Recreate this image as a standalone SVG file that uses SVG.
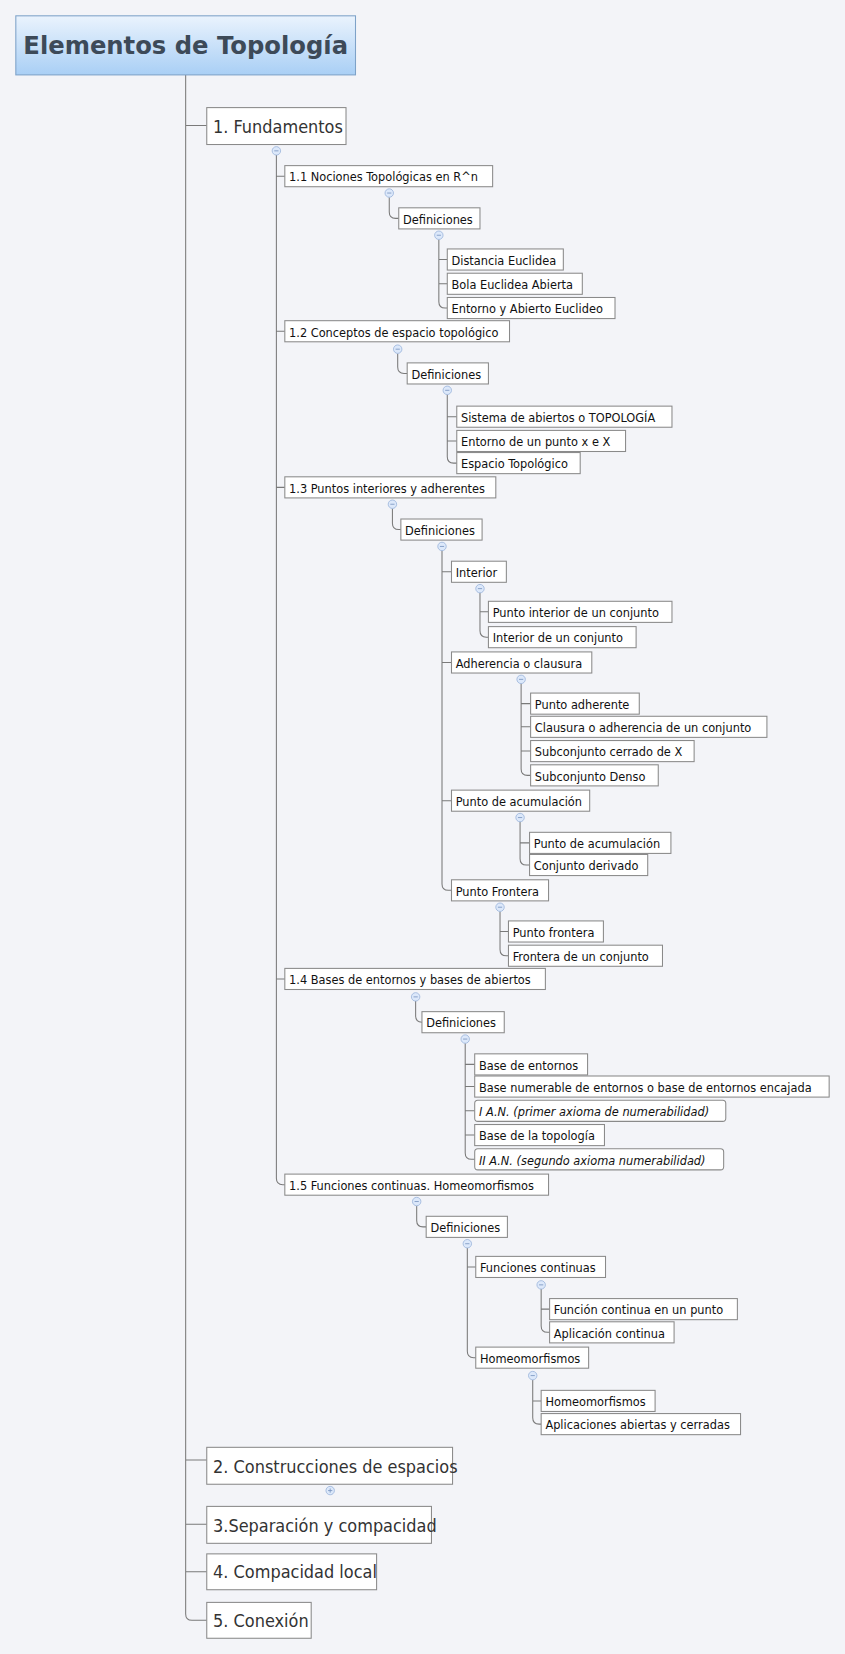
<svg xmlns="http://www.w3.org/2000/svg" width="845" height="1654" viewBox="0 0 845 1654">
<style>
.n rect{fill:#fff;stroke:#8a8a8a;stroke-width:1}
.n text{font-family:"DejaVu Sans Condensed","DejaVu Sans",sans-serif;font-size:12px;fill:#111}
.b text{font-size:17px;fill:#333}
.i text{font-style:italic}
#conn path{fill:none;stroke:#7a7a7a;stroke-width:1}
.c circle{fill:#dce8fa;stroke:#9db6dc;stroke-width:0.8}
.c path{stroke:#7a95c0;stroke-width:0.8}
</style>
<defs>
<linearGradient id="tg" x1="0" y1="0" x2="0" y2="1"><stop offset="0" stop-color="#eaf3fd"/><stop offset="1" stop-color="#a9cff5"/></linearGradient>
</defs>
<rect width="845" height="1654" fill="#f3f4f8"/>
<g transform="scale(1.0549)">
<g id="conn">
<path d="M176 71V1530Q176 1536 182 1536H196M176 1384H196M176 1445H196M176 1490H196M176 119H196"/>
<path d="M262 147V1117Q262 1123 268 1123H270M262 167H270M262 314H270M262 462H270M262 928H270"/>
<path d="M369 187V201Q369 207 375 207H378"/>
<path d="M416 227V286Q416 292 422 292H424M416 246H424M416 269H424"/>
<path d="M377 335V348Q377 354 383 354H386"/>
<path d="M424 374V433Q424 439 430 439H433M424 395H433M424 418H433"/>
<path d="M372 482V496Q372 502 378 502H380"/>
<path d="M419 522V838Q419 844 425 844H428M419 542H428M419 628H428M419 759H428"/>
<path d="M455 562V598Q455 604 461 604H463M455 580H463"/>
<path d="M494 648V729Q494 735 500 735H503M494 667H503M494 689H503M494 712H503"/>
<path d="M493 779V814Q493 820 499 820H502M493 799H502"/>
<path d="M474 864V900Q474 906 480 906H482M474 883H482"/>
<path d="M394 949V963Q394 969 400 969"/>
<path d="M441 989V1093Q441 1099 447 1099H450M441 1009H450M441 1030H450M441 1053H450M441 1076H450"/>
<path d="M395 1143V1157Q395 1163 401 1163H404"/>
<path d="M443 1183V1281Q443 1287 449 1287H451M443 1201H451"/>
<path d="M513 1222V1257Q513 1263 519 1263H521M513 1241H521"/>
<path d="M505 1308V1344Q505 1350 511 1350H513M505 1328H513"/>
</g>
<g id="title"><rect x="15" y="15" width="322" height="56" fill="url(#tg)" stroke="#7ea2c8"/><text x="176" y="51" text-anchor="middle" font-family="'DejaVu Sans',sans-serif" font-weight="bold" font-size="23" fill="#3d4a58">Elementos de Topología</text></g>
<g id="n1" class="n b"><rect x="196" y="102" width="132" height="35"/><text x="202" y="126">1. Fundamentos</text></g>
<g id="n2" class="n b"><rect x="196" y="1372" width="233" height="35"/><text x="202" y="1396">2. Construcciones de espacios</text></g>
<g id="n3" class="n b"><rect x="196" y="1428" width="213" height="35"/><text x="202" y="1452">3.Separación y compacidad</text></g>
<g id="n4" class="n b"><rect x="196" y="1473" width="161" height="34"/><text x="202" y="1496">4. Compacidad local</text></g>
<g id="n5" class="n b"><rect x="196" y="1519" width="99" height="34"/><text x="202" y="1542">5. Conexión</text></g>
<g id="n11" class="n"><rect x="270" y="157" width="197" height="20"/><text x="274" y="172">1.1 Nociones Topológicas en R^n</text></g>
<g id="n11d" class="n"><rect x="378" y="197" width="77" height="20"/><text x="382" y="212">Definiciones</text></g>
<g id="n111" class="n"><rect x="424" y="236" width="110" height="20"/><text x="428" y="251">Distancia Euclidea</text></g>
<g id="n112" class="n"><rect x="424" y="259" width="128" height="20"/><text x="428" y="274">Bola Euclidea Abierta</text></g>
<g id="n113" class="n"><rect x="424" y="282" width="159" height="20"/><text x="428" y="297">Entorno y Abierto Euclideo</text></g>
<g id="n12" class="n"><rect x="270" y="304" width="213" height="20"/><text x="274" y="319">1.2 Conceptos de espacio topológico</text></g>
<g id="n12d" class="n"><rect x="386" y="344" width="77" height="20"/><text x="390" y="359">Definiciones</text></g>
<g id="n121" class="n"><rect x="433" y="385" width="204" height="20"/><text x="437" y="400">Sistema de abiertos o TOPOLOGÍA</text></g>
<g id="n122" class="n"><rect x="433" y="408" width="160" height="20"/><text x="437" y="423">Entorno de un punto x e X</text></g>
<g id="n123" class="n"><rect x="433" y="429" width="117" height="20"/><text x="437" y="444">Espacio Topológico</text></g>
<g id="n13" class="n"><rect x="270" y="452" width="200" height="20"/><text x="274" y="467">1.3 Puntos interiores y adherentes</text></g>
<g id="n13d" class="n"><rect x="380" y="492" width="77" height="20"/><text x="384" y="507">Definiciones</text></g>
<g id="n131" class="n"><rect x="428" y="532" width="52" height="20"/><text x="432" y="547">Interior</text></g>
<g id="n1311" class="n"><rect x="463" y="570" width="174" height="20"/><text x="467" y="585">Punto interior de un conjunto</text></g>
<g id="n1312" class="n"><rect x="463" y="594" width="140" height="20"/><text x="467" y="609">Interior de un conjunto</text></g>
<g id="n132" class="n"><rect x="428" y="618" width="133" height="20"/><text x="432" y="633">Adherencia o clausura</text></g>
<g id="n1321" class="n"><rect x="503" y="657" width="103" height="20"/><text x="507" y="672">Punto adherente</text></g>
<g id="n1322" class="n"><rect x="503" y="679" width="224" height="20"/><text x="507" y="694">Clausura o adherencia de un conjunto</text></g>
<g id="n1323" class="n"><rect x="503" y="702" width="155" height="20"/><text x="507" y="717">Subconjunto cerrado de X</text></g>
<g id="n1324" class="n"><rect x="503" y="725" width="121" height="20"/><text x="507" y="740">Subconjunto Denso</text></g>
<g id="n133" class="n"><rect x="428" y="749" width="131" height="20"/><text x="432" y="764">Punto de acumulación</text></g>
<g id="n1331" class="n"><rect x="502" y="789" width="134" height="20"/><text x="506" y="804">Punto de acumulación</text></g>
<g id="n1332" class="n"><rect x="502" y="810" width="112" height="20"/><text x="506" y="825">Conjunto derivado</text></g>
<g id="n134" class="n"><rect x="428" y="834" width="92" height="20"/><text x="432" y="849">Punto Frontera</text></g>
<g id="n1341" class="n"><rect x="482" y="873" width="90" height="20"/><text x="486" y="888">Punto frontera</text></g>
<g id="n1342" class="n"><rect x="482" y="896" width="146" height="20"/><text x="486" y="911">Frontera de un conjunto</text></g>
<g id="n14" class="n"><rect x="270" y="918" width="247" height="20"/><text x="274" y="933">1.4 Bases de entornos y bases de abiertos</text></g>
<g id="n14d" class="n"><rect x="400" y="959" width="78" height="20"/><text x="404" y="974">Definiciones</text></g>
<g id="n141" class="n"><rect x="450" y="999" width="107" height="20"/><text x="454" y="1014">Base de entornos</text></g>
<g id="n142" class="n"><rect x="450" y="1020" width="336" height="20"/><text x="454" y="1035">Base numerable de entornos o base de entornos encajada</text></g>
<g id="n143" class="n i"><rect x="450" y="1043" width="238" height="20" rx="3"/><text x="454" y="1058">I A.N. (primer axioma de numerabilidad)</text></g>
<g id="n144" class="n"><rect x="450" y="1066" width="123" height="20"/><text x="454" y="1081">Base de la topología</text></g>
<g id="n145" class="n i"><rect x="450" y="1089" width="236" height="20" rx="3"/><text x="454" y="1104">II A.N. (segundo axioma numerabilidad)</text></g>
<g id="n15" class="n"><rect x="270" y="1113" width="250" height="20"/><text x="274" y="1128">1.5 Funciones continuas. Homeomorfismos</text></g>
<g id="n15d" class="n"><rect x="404" y="1153" width="77" height="20"/><text x="408" y="1168">Definiciones</text></g>
<g id="n151" class="n"><rect x="451" y="1191" width="123" height="20"/><text x="455" y="1206">Funciones continuas</text></g>
<g id="n1511" class="n"><rect x="521" y="1231" width="178" height="20"/><text x="525" y="1246">Función continua en un punto</text></g>
<g id="n1512" class="n"><rect x="521" y="1253" width="118" height="20"/><text x="525" y="1268">Aplicación continua</text></g>
<g id="n152" class="n"><rect x="451" y="1277" width="107" height="20"/><text x="455" y="1292">Homeomorfismos</text></g>
<g id="n1521" class="n"><rect x="513" y="1318" width="108" height="20"/><text x="517" y="1333">Homeomorfismos</text></g>
<g id="n1522" class="n"><rect x="513" y="1340" width="189" height="20"/><text x="517" y="1355">Aplicaciones abiertas y cerradas</text></g>
<g id="toggles" class="c">
<circle cx="262" cy="143" r="4"/><path d="M260 143h4"/>
<circle cx="369" cy="183" r="4"/><path d="M367 183h4"/>
<circle cx="416" cy="223" r="4"/><path d="M414 223h4"/>
<circle cx="377" cy="331" r="4"/><path d="M375 331h4"/>
<circle cx="424" cy="370" r="4"/><path d="M422 370h4"/>
<circle cx="372" cy="478" r="4"/><path d="M370 478h4"/>
<circle cx="419" cy="518" r="4"/><path d="M417 518h4"/>
<circle cx="455" cy="558" r="4"/><path d="M453 558h4"/>
<circle cx="494" cy="644" r="4"/><path d="M492 644h4"/>
<circle cx="493" cy="775" r="4"/><path d="M491 775h4"/>
<circle cx="474" cy="860" r="4"/><path d="M472 860h4"/>
<circle cx="394" cy="945" r="4"/><path d="M392 945h4"/>
<circle cx="441" cy="985" r="4"/><path d="M439 985h4"/>
<circle cx="395" cy="1139" r="4"/><path d="M393 1139h4"/>
<circle cx="443" cy="1179" r="4"/><path d="M441 1179h4"/>
<circle cx="513" cy="1218" r="4"/><path d="M511 1218h4"/>
<circle cx="505" cy="1304" r="4"/><path d="M503 1304h4"/>
<circle cx="313" cy="1413" r="4"/><path d="M311 1413h4M313 1411v4"/>
</g>
</g>
</svg>
